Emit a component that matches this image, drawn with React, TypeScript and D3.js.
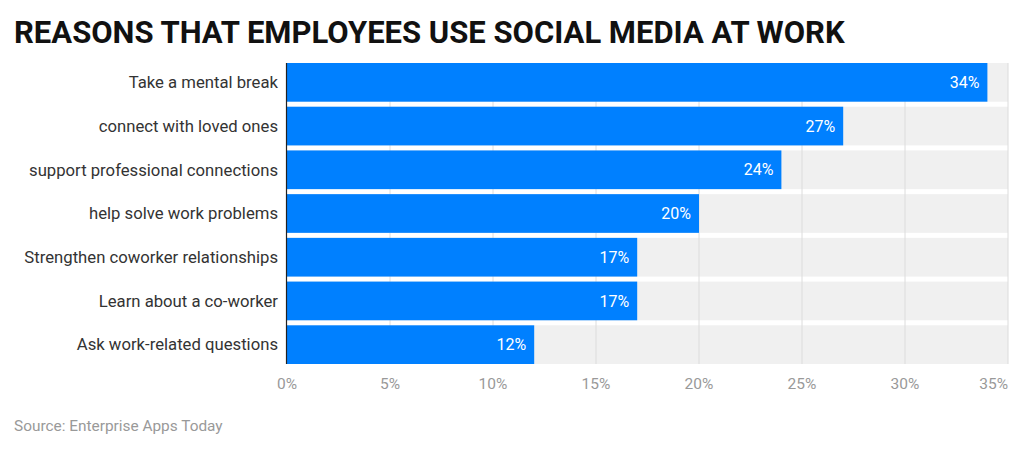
import React from "react";
import * as d3 from "d3";

const categories = [
  "Take a mental break",
  "connect with loved ones",
  "support professional connections",
  "help solve work problems",
  "Strengthen coworker relationships",
  "Learn about a co-worker",
  "Ask work-related questions",
];
const values = [34, 27, 24, 20, 17, 17, 12];
const ticks = [0, 5, 10, 15, 20, 25, 30, 35];

const W = 1024;
const H = 450;
const left = 287;
const right = 1008;
const top = 63;
const bottom = 364;

export default function App() {
  const x = d3.scaleLinear().domain([0, 35]).range([left, right]);
  const y = d3
    .scaleBand<string>()
    .domain(categories)
    .range([top, bottom])
    .paddingInner(0.115)
    .paddingOuter(0);
  const font = "Roboto, sans-serif";
  return (
    <svg
      width={W}
      height={H}
      style={{ position: "absolute", left: 0, top: 0, background: "#fff" }}
      fontFamily={font}
    >
      <text x={14} y={43} fontSize={31} fontWeight={700} fill="#111">
        REASONS THAT EMPLOYEES USE SOCIAL MEDIA AT WORK
      </text>
      {categories.map((c) => (
        <rect
          key={"bg" + c}
          x={left}
          y={y(c)!}
          width={right - left}
          height={y.bandwidth()}
          fill="#f0f0f0"
        />
      ))}
      {ticks.slice(1).map((t) => (
        <line
          key={"g" + t}
          x1={x(t)}
          x2={x(t)}
          y1={top}
          y2={bottom}
          stroke="#dcdcdc"
          strokeWidth={1}
        />
      ))}
      {categories.map((c, i) => (
        <g key={c}>
          <rect
            x={left}
            y={y(c)!}
            width={x(values[i]) - left}
            height={y.bandwidth()}
            fill="#0080ff"
          />
          <text
            x={x(values[i]) - 8}
            y={y(c)! + y.bandwidth() / 2}
            dy="0.35em"
            textAnchor="end"
            fontSize={16}
            fill="#fff"
          >
            {values[i]}%
          </text>
          <text
            x={278}
            y={y(c)! + y.bandwidth() / 2}
            dy="0.35em"
            textAnchor="end"
            fontSize={16.7}
            fill="#333"
          >
            {c}
          </text>
        </g>
      ))}
      <line x1={left - 0.5} x2={left - 0.5} y1={top} y2={bottom} stroke="#222" strokeWidth={1.2} />
      {ticks.map((t) => (
        <text
          key={"t" + t}
          x={x(t)}
          y={389}
          textAnchor={t === 35 ? "end" : "middle"}
          fontSize={15.5}
          fill="#999"
        >
          {t}%
        </text>
      ))}
      <text x={14} y={431} fontSize={15.4} fill="#999">
        Source: Enterprise Apps Today
      </text>
    </svg>
  );
}
